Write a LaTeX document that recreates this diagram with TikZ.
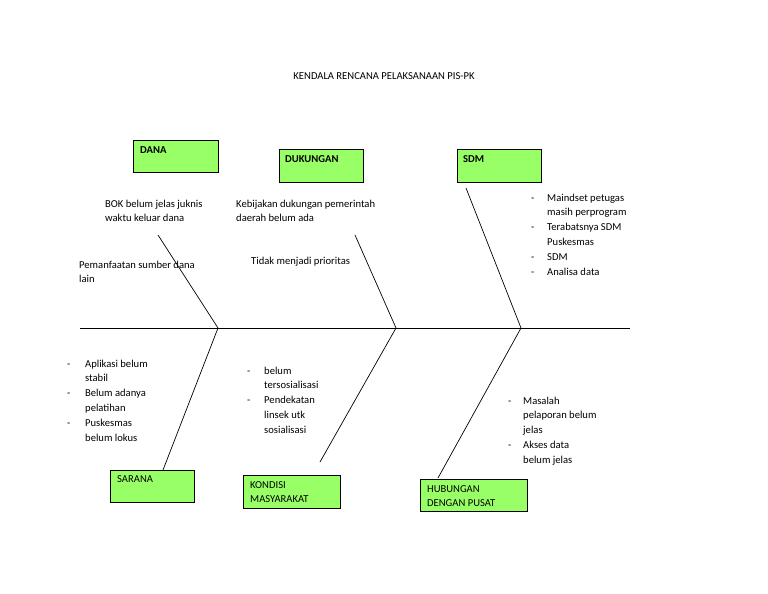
\documentclass[tikz,border=0pt]{standalone}
\usepackage{fontspec}
\setmainfont{Carlito}
\definecolor{boxgreen}{RGB}{153,255,102}
\newcommand\fsz{\fontsize{10.6}{14.8}\selectfont}
\newcommand\dashlist[2]{\begin{tabular}[t]{@{}p{#1pt}@{}l@{}}#2\end{tabular}}
\newcommand\lines[1]{\begin{tabular}[t]{@{}l@{}}#1\end{tabular}}
\begin{document}
\begin{tikzpicture}[x=1pt,y=-1pt,
  txt/.style={anchor=base west,inner sep=0pt,font=\fsz},
  catbox/.style={draw=black,fill=boxgreen,line width=0.9pt,anchor=north west,inner sep=0pt},
  spine/.style={line width=1pt},
  bone/.style={line width=0.7pt}]
\useasboundingbox (0,0) rectangle (768,594);
% title
\node[anchor=base,inner sep=0pt,font=\fsz] (title) at (384,79) {KENDALA RENCANA PELAKSANAAN PIS-PK};
% category boxes
\node[catbox,minimum width=85pt,minimum height=32pt] (dana) at (133,140) {};
\node[txt,font=\fsz\bfseries] (danat) at ([shift={(7,13)}]dana.north west) {DANA};
\node[catbox,minimum width=84pt,minimum height=33pt] (dukungan) at (279,149) {};
\node[txt,font=\fsz\bfseries] (dukungant) at ([shift={(6,13)}]dukungan.north west) {DUKUNGAN};
\node[catbox,minimum width=84pt,minimum height=33pt] (sdm) at (457,149) {};
\node[txt,font=\fsz\bfseries] (sdmt) at ([shift={(6,13)}]sdm.north west) {SDM};
\node[catbox,minimum width=84pt,minimum height=32pt] (sarana) at (110,470) {};
\node[txt] (saranat) at ([shift={(7,12)}]sarana.north west) {SARANA};
\node[catbox,minimum width=97pt,minimum height=33pt] (kondisi) at (243,475) {};
\node[txt] (kondisit) at ([shift={(7,13)}]kondisi.north west) {\lines{KONDISI\\MASYARAKAT}};
\node[catbox,minimum width=107pt,minimum height=32pt] (hubungan) at (420,479) {};
\node[txt] (hubungant) at ([shift={(7,13)}]hubungan.north west) {\lines{HUBUNGAN\\DENGAN PUSAT}};
% spine
\coordinate (sl) at (80,328);
\coordinate (sr) at (630,328);
\coordinate (j1) at (218,328);
\coordinate (j2) at (396,328);
\coordinate (j3) at (521,328);
\draw[spine] (sl) -- (sr);
% bones
\coordinate (b1) at (158,235);
\coordinate (b2) at (355,235);
\coordinate (b3) at (466,188);
\coordinate (b4) at (163,470);
\coordinate (b5) at (320,462);
\coordinate (b6) at (438,478);
\draw[bone] (b1) -- (j1);
\draw[bone] (b2) -- (j2);
\draw[bone] (b3) -- (j3);
\draw[bone] (j1) -- (b4);
\draw[bone] (j2) -- (b5);
\draw[bone] (j3) -- (b6);
% cause texts
\node[txt] (bok) at (105,207) {\lines{BOK belum jelas juknis\\waktu keluar dana}};
\node[txt] (kebijakan) at (236,207) {\lines{Kebijakan dukungan pemerintah\\daerah belum ada}};
\node[txt] (tidak) at (251,264) {Tidak menjadi prioritas};
\node[txt] (pemanfaatan) at (79,268) {\lines{Pemanfaatan sumber dana\\lain}};
\node[txt] (sdml) at (531,201) {\dashlist{16}{- & Maindset petugas\\ & masih perprogram\\- & Terabatsnya SDM\\ & Puskesmas\\- & SDM\\- & Analisa data}};
\node[txt] (saranal) at (67,367) {\dashlist{18}{- & Aplikasi belum\\ & stabil\\- & Belum adanya\\ & pelatihan\\- & Puskesmas\\ & belum lokus}};
\node[txt] (kondisil) at (247,374) {\dashlist{17}{- & belum\\ & tersosialisasi\\- & Pendekatan\\ & linsek utk\\ & sosialisasi}};
\node[txt] (hubunganl) at (508,404) {\dashlist{15}{- & Masalah\\ & pelaporan belum\\ & jelas\\- & Akses data\\ & belum jelas}};
\end{tikzpicture}
\end{document}
